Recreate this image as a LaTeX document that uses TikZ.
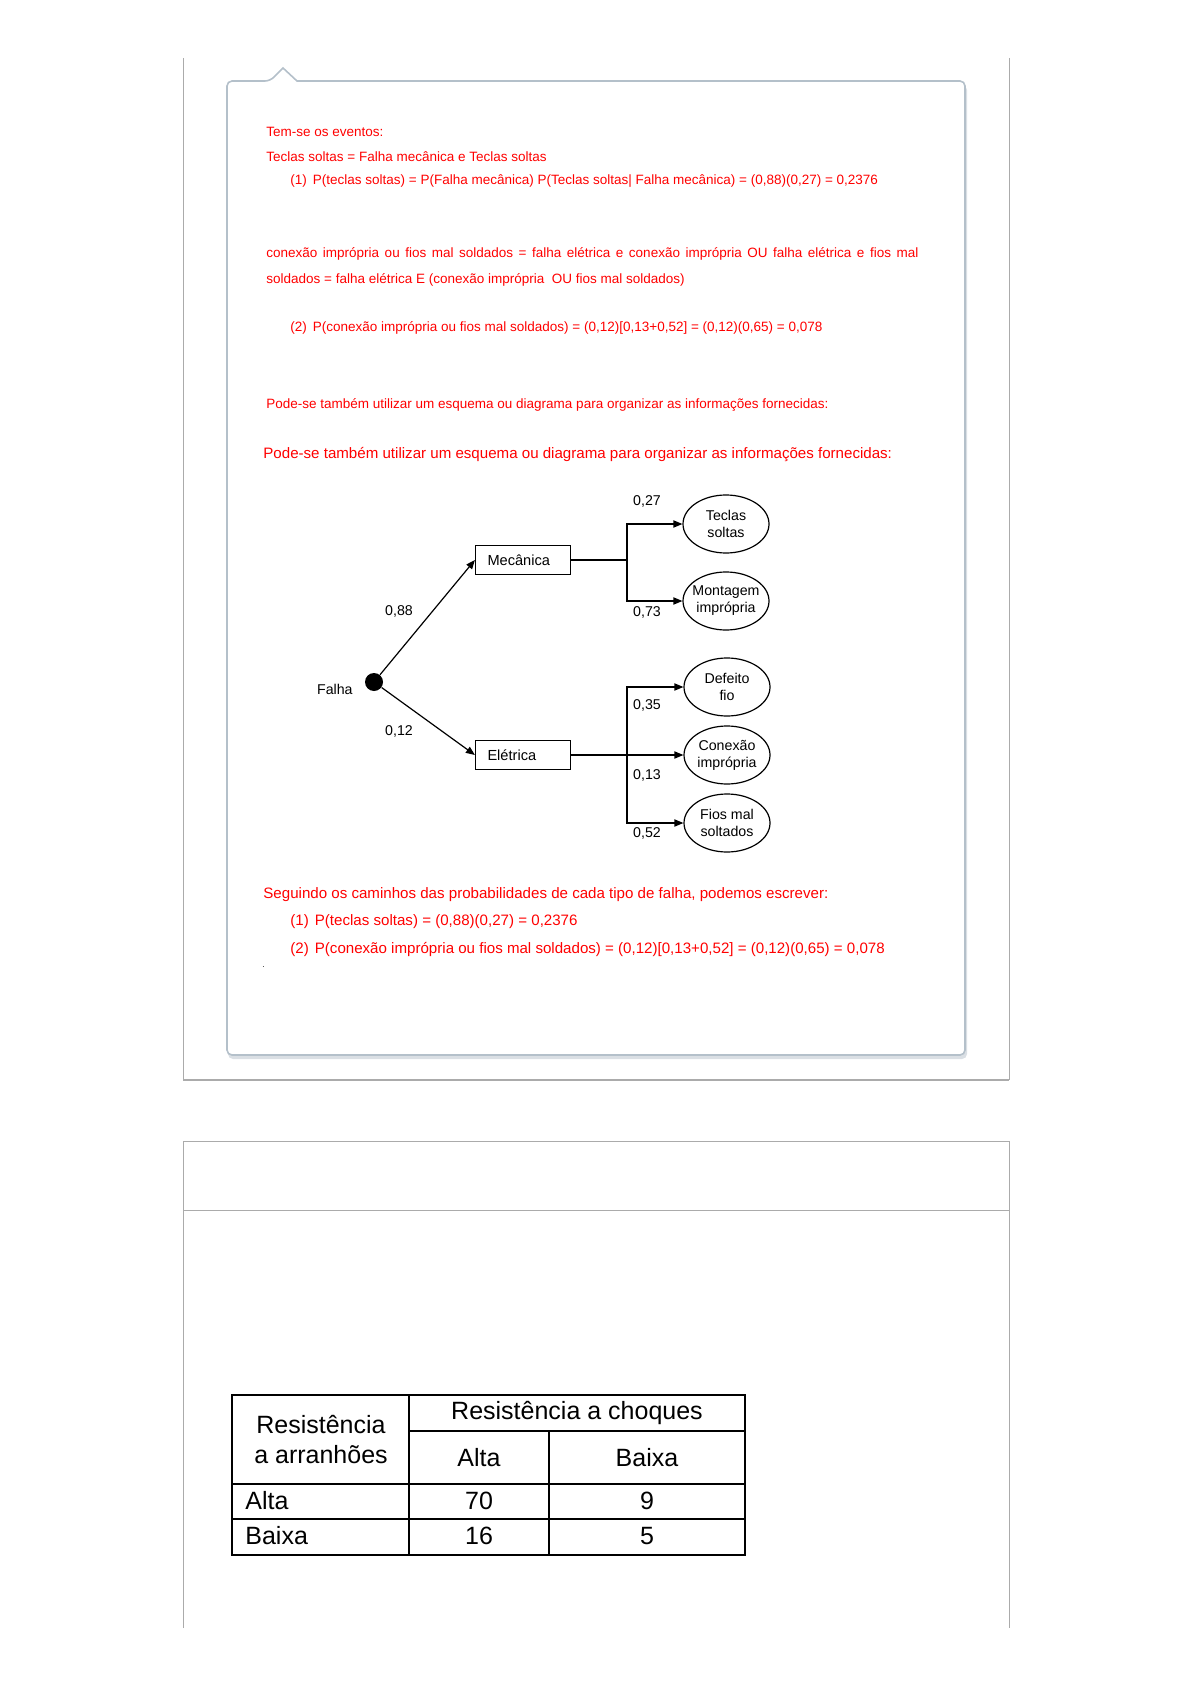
\documentclass[tikz,border=0pt]{standalone}
\usepackage{fontspec}
\setmainfont{Liberation Sans}
\usetikzlibrary{shapes.geometric,arrows.meta}
\definecolor{txtred}{HTML}{FF0000}
\definecolor{panelgray}{HTML}{ABABAB}
\definecolor{cardline}{HTML}{B4C0CA}
\definecolor{cardshadow}{HTML}{DADFE4}

\begin{document}
\begin{tikzpicture}[x=0.5pt, y=-0.5pt,
  txt/.style={anchor=west, inner sep=0pt, text=txtred, font=\fontsize{6.75}{8}\selectfont},
  txtbig/.style={txt, font=\fontsize{7.55}{9}\selectfont},
  caixa/.style={draw, line width=0.6pt, text width=35.5pt, inner xsep=6pt, minimum height=14.5pt, align=left, font=\fontsize{7.3}{8.5}\selectfont},
  elip/.style={draw, ellipse, line width=0.6pt, minimum width=43pt, minimum height=29pt, inner xsep=-3pt, inner ysep=0pt, align=center, font=\fontsize{7.1}{8.5}\selectfont},
  prob/.style={inner sep=0pt, font=\fontsize{7.1}{8.5}\selectfont},
  seta/.style={-{Triangle[length=4.5pt,width=3.6pt]}, line width=0.6pt},
  cel/.style={inner sep=0pt, font=\fontsize{12.5}{15}\selectfont}]
  \useasboundingbox (0,0) rectangle (1190,1684);
  \draw[panelgray, line width=0.5pt] (183,58) -- (183,1080) (1009,58) -- (1009,1080);
  \draw[panelgray, line width=1pt] (183,1080) -- (1009,1080);
  \fill[cardshadow, rounded corners=2.5pt] (228,85) rectangle (967,1059);
  \draw[cardline, fill=white, line width=0.8pt] (600,1055) [rounded corners=2.5pt] -- (227,1055) -- (227,81) -- (270,81) [sharp corners] -- (283,68) -- (297,81) [rounded corners=2.5pt] -- (965,81) -- (965,1055) -- cycle;

  \node[txt] (t1) at (266,132) {Tem-se os eventos:};
  \node[txt] (t2) at (266,157) {Teclas soltas = Falha mecânica e Teclas soltas};
  \node[txt] (t3) at (290,181) {(1)\hspace{3pt}P(teclas soltas) = P(Falha mecânica) P(Teclas soltas| Falha mecânica) = (0,88)(0,27) = 0,2376};
  \node[txt] (t4) at (266,254) {\makebox[326pt][s]{conexão imprópria ou fios mal soldados = falha elétrica e conexão imprópria OU falha elétrica e fios mal}};
  \node[txt] (t5) at (266,280) {soldados = falha elétrica E (conexão imprópria\ \ OU fios mal soldados)};
  \node[txt] (t6) at (290,328) {(2)\hspace{3pt}P(conexão imprópria ou fios mal soldados) = (0,12)[0,13+0,52] = (0,12)(0,65) = 0,078};
  \node[txt] (t7) at (266,405) {Pode-se também utilizar um esquema ou diagrama para organizar as informações fornecidas:};
  \node[txtbig] (t8) at (263,455) {Pode-se também utilizar um esquema ou diagrama para organizar as informações fornecidas:};

  \node[circle, fill, inner sep=0pt, minimum size=9pt] (falha) at (374,682) {};
  \node[prob, anchor=east] (lfalha) at (353,689) {Falha};
  \node[caixa] (mec) at (523,560) {Mecânica};
  \node[caixa] (ele) at (523,755) {Elétrica};
  \node[elip] (tec) at (726,524) {Teclas\\soltas};
  \node[elip] (mon) at (726,601) {Montagem\\imprópria};
  \node[elip] (def) at (727,687) {Defeito\\fio};
  \node[elip] (con) at (727,755) {Conexão\\imprópria};
  \node[elip] (fio) at (727,823) {Fios mal\\soltados};
  \coordinate (rm) at (627,560);
  \coordinate (re) at (627,755);
  \draw[seta] (falha) -- (mec.west);
  \draw[seta] (falha) -- (ele.west);
  \draw[line width=0.8pt] (mec.east) -- (rm);
  \draw[seta] (rm) |- (tec.west);
  \draw[seta] (rm) |- (mon.west);
  \draw[seta] (ele.east) -- (con.west);
  \draw[seta] (re) |- (def.west);
  \draw[seta] (re) |- (fio.west);
  \node[prob] (p88) at (399,611) {0,88};
  \node[prob] (p12) at (399,731) {0,12};
  \node[prob] (p27) at (647,501) {0,27};
  \node[prob] (p73) at (647,612) {0,73};
  \node[prob] (p35) at (647,705) {0,35};
  \node[prob] (p13) at (647,775) {0,13};
  \node[prob] (p52) at (647,833) {0,52};

  \node[txtbig] (t9) at (263,895) {Seguindo os caminhos das probabilidades de cada tipo de falha, podemos escrever:};
  \node[txtbig] (t10) at (290,922) {(1)\hspace{3pt}P(teclas soltas) = (0,88)(0,27) = 0,2376};
  \node[txtbig] (t11) at (290,949) {(2)\hspace{3pt}P(conexão imprópria ou fios mal soldados) = (0,12)[0,13+0,52] = (0,12)(0,65) = 0,078};
  \node[txt, text=black, font=\fontsize{4}{4}\selectfont] (t12) at (262,967) {.};

  \draw[panelgray, line width=0.5pt] (183,1628) -- (183,1141) -- (1009,1141) -- (1009,1628);
  \draw[panelgray, line width=0.5pt] (183,1210) -- (1009,1210);

  \draw[line width=0.7pt] (232,1395) rectangle (745,1555);
  \draw[line width=0.7pt] (409,1395) -- (409,1555) (549,1431) -- (549,1555) (409,1431) -- (745,1431) (232,1484) -- (745,1484) (232,1519) -- (745,1519);
  \node[cel] (hcho) at (577,1413) {Resistência a choques};
  \node[cel, align=center] (harr) at (321,1440) {Resistência\\a arranhões};
  \node[cel] (halta) at (479,1458) {Alta};
  \node[cel] (hbaixa) at (647,1458) {Baixa};
  \node[cel, anchor=west] (ralta) at (245,1501) {Alta};
  \node[cel, anchor=west] (rbaixa) at (245,1536) {Baixa};
  \foreach \v/\x/\y/\n in {70/479/1501/aa, 9/647/1501/ab, 16/479/1536/ba, 5/647/1536/bb}
    \node[cel] (c\n) at (\x,\y) {\v};
\end{tikzpicture}
\end{document}
